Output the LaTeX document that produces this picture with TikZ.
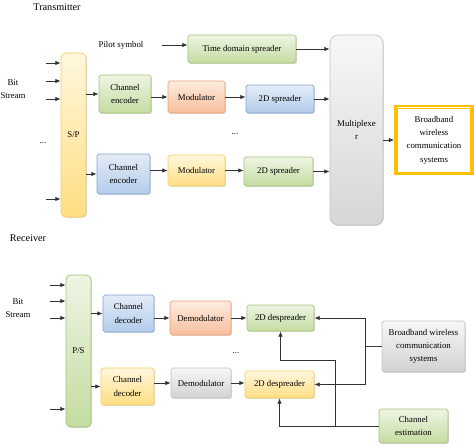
\documentclass[tikz,border=0pt]{standalone}
\usepackage{fontspec}
\setmainfont{Liberation Serif}
\usetikzlibrary{positioning, arrows.meta, shadows}

\definecolor{grnline}{RGB}{165,195,120}
\definecolor{grntop}{RGB}{238,245,228}
\definecolor{grnbot}{RGB}{196,220,160}
\definecolor{orgline}{RGB}{232,160,120}
\definecolor{orgtop}{RGB}{253,236,224}
\definecolor{orgbot}{RGB}{247,190,155}
\definecolor{bluline}{RGB}{130,165,210}
\definecolor{blutop}{RGB}{228,236,246}
\definecolor{blubot}{RGB}{178,204,235}
\definecolor{ylwline}{RGB}{245,205,100}
\definecolor{ylwtop}{RGB}{255,248,222}
\definecolor{ylwbot}{RGB}{255,222,130}
\definecolor{gryline}{RGB}{195,195,195}
\definecolor{grytop}{RGB}{247,247,247}
\definecolor{grybot}{RGB}{210,210,210}
\definecolor{bbyellow}{RGB}{255,192,0}

\tikzset{
    >={Latex[length=4.6pt,width=4pt]}, % small filled heads
    arr/.style={->, line width=0.8pt, draw=black!80},
    wire/.style={line width=0.8pt, draw=black!75},
    lbl/.style={align=center, font=\fontsize{7.5}{11.4}\selectfont},
    heading/.style={font=\fontsize{8.7}{10}\selectfont},
    blk/.style={lbl, rounded corners=1.5pt, inner sep=1pt, line width=0.6pt,
        drop shadow={shadow xshift=0.8pt, shadow yshift=-0.8pt, opacity=0.3}},
    grnbox/.style={blk, draw=grnline, top color=grntop, bottom color=grnbot},
    orgbox/.style={blk, draw=orgline, top color=orgtop, bottom color=orgbot},
    blubox/.style={blk, draw=bluline, top color=blutop, bottom color=blubot},
    ylwbox/.style={blk, draw=ylwline, top color=ylwtop, bottom color=ylwbot},
    grybox/.style={blk, draw=gryline, top color=grytop, bottom color=grybot},
    bar/.style={blk, rounded corners=4pt},
    muxbar/.style={blk, rounded corners=7pt, draw=gryline, top color=grytop, bottom color=black!16},
    bbbox/.style={lbl, draw=bbyellow, line width=2.2pt, fill=white, inner sep=2pt},
}

\begin{document}
\begin{tikzpicture}[x=0.03cm, y=-0.03cm]
    \useasboundingbox (0,0) rectangle (474,445);

    % Transmitter
    \node[heading] (txtitle) at (57,7) {Transmitter};
    \node[lbl] (pilot) at (121,45) {Pilot symbol};
    \node[grnbox, minimum width=3.24cm, minimum height=0.84cm] (tdspr) at (242,49) {Time domain spreader};
    \node[bar, draw=ylwline, top color=ylwtop, bottom color=ylwbot,
          minimum width=0.75cm, minimum height=4.92cm] (sp) at (73.5,135) {S/P};
    \node[lbl] (bstx) at (13,89) {Bit\\Stream};
    \node[lbl] (dotsa) at (43,143) {...};

    \node[grnbox, minimum width=1.56cm, minimum height=1.14cm] (enc1) at (125,94) {Channel\\encoder};
    \node[orgbox, minimum width=1.71cm, minimum height=0.96cm] (mod1) at (196.5,97) {Modulator};
    \node[blubox, minimum width=2.04cm, minimum height=0.84cm] (spr1) at (280,99) {2D spreader};
    \node[lbl] (dotsb) at (235,134) {...};
    \node[blubox, minimum width=1.59cm, minimum height=1.2cm] (enc2) at (123.5,174) {Channel\\encoder};
    \node[ylwbox, minimum width=1.71cm, minimum height=0.93cm] (mod2) at (196.5,170.5) {Modulator};
    \node[grnbox, minimum width=2.07cm, minimum height=0.87cm] (spr2) at (278.5,171.5) {2D spreader};
    \node[muxbar, minimum width=1.59cm, minimum height=5.7cm] (mux) at (356.5,130) {Multiplexe\\r};
    \node[bbbox, minimum width=2.31cm, minimum height=2.04cm] (bbtx) at (434,140) {Broadband\\wireless\\communication\\systems};
    \draw[bbyellow, line width=0.6pt] ([shift={(2.7pt,-2.7pt)}]bbtx.north west) rectangle ([shift={(-2.7pt,2.7pt)}]bbtx.south east);

    \foreach \y [count=\i] in {63,81,99,199} {
        \coordinate (tin\i) at (46,\y);
        \draw[arr] (tin\i) -- (tin\i -| sp.west);
    }
    \draw[arr, shorten <=0.45cm] (pilot.east) -- (tdspr.west |- pilot.east);
    \draw[arr] (tdspr.east) -- (tdspr.east -| mux.west);
    \draw[arr] (sp.east |- enc1.west) -- (enc1.west);
    \draw[arr] (enc1.east |- mod1.west) -- (mod1.west);
    \draw[arr] (mod1.east) -- (spr1.west |- mod1.east);
    \draw[arr] (spr1.east) -- (spr1.east -| mux.west);
    \draw[arr] (sp.east |- enc2.west) -- (enc2.west);
    \draw[arr] (enc2.east |- mod2.west) -- (mod2.west);
    \draw[arr] (mod2.east) -- (spr2.west |- mod2.east);
    \draw[arr] (spr2.east) -- (spr2.east -| mux.west);
    \draw[arr] (mux.east |- bbtx.west) -- (bbtx.west);

    % Receiver
    \node[heading] (rxtitle) at (28,238) {Receiver};
    \node[bar, draw=grnline, top color=grntop, bottom color=grnbot,
          minimum width=0.75cm, minimum height=4.56cm] (ps) at (78.5,351) {P/S};
    \node[lbl] (bsrx) at (18,308) {Bit\\Stream};

    \node[blubox, minimum width=1.53cm, minimum height=1.11cm] (dec1) at (128.5,313.5) {Channel\\decoder};
    \node[orgbox, minimum width=1.83cm, minimum height=1.02cm] (dem1) at (200.5,318) {Demodulator};
    \node[grnbox, minimum width=2.01cm, minimum height=0.78cm] (desp1) at (280.5,318) {2D despreader};
    \node[lbl] (dotsc) at (236,353) {...};
    \node[ylwbox, minimum width=1.59cm, minimum height=1.11cm] (dec2) at (127.5,386.5) {Channel\\decoder};
    \node[grybox, minimum width=1.8cm, minimum height=0.9cm] (dem2) at (201,383) {Demodulator};
    \node[ylwbox, minimum width=2.07cm, minimum height=0.81cm] (desp2) at (279.5,384.5) {2D despreader};
    \node[grybox, minimum width=2.49cm, minimum height=1.53cm] (bbrx) at (423.5,346.5) {Broadband wireless\\communication\\systems};
    \node[grnbox, minimum width=2.07cm, minimum height=1.02cm] (chest) at (413.5,426) {Channel\\estimation};

    \foreach \y [count=\i] in {285,301,318,409} {
        \coordinate (rin\i) at (50,\y);
        \draw[arr] (rin\i) -- (rin\i -| ps.west);
    }
    \draw[arr] (ps.east |- dec1.west) -- (dec1.west);
    \draw[arr] (dec1.east |- dem1.west) -- (dem1.west);
    \draw[arr] (dem1.east) -- (desp1.west);
    \draw[arr] (ps.east |- dec2.west) -- (dec2.west);
    \draw[arr] (dec2.east |- dem2.west) -- (dem2.west);
    \draw[arr] (dem2.east) -- (desp2.west |- dem2.east);

    \coordinate (rxsplit) at (365,346.5);
    \draw[wire] (bbrx.west) -- (rxsplit);
    \draw[arr] (rxsplit) |- (desp1.east);
    \draw[arr] (rxsplit) |- (desp2.east);

    \coordinate (estsplit) at (335,426);
    \coordinate (estbend) at (335,360);
    \draw[arr] (chest.west) -| (desp2.south);
    \draw[arr] (estsplit) -- (estbend) -| (desp1.south);
\end{tikzpicture}
\end{document}
